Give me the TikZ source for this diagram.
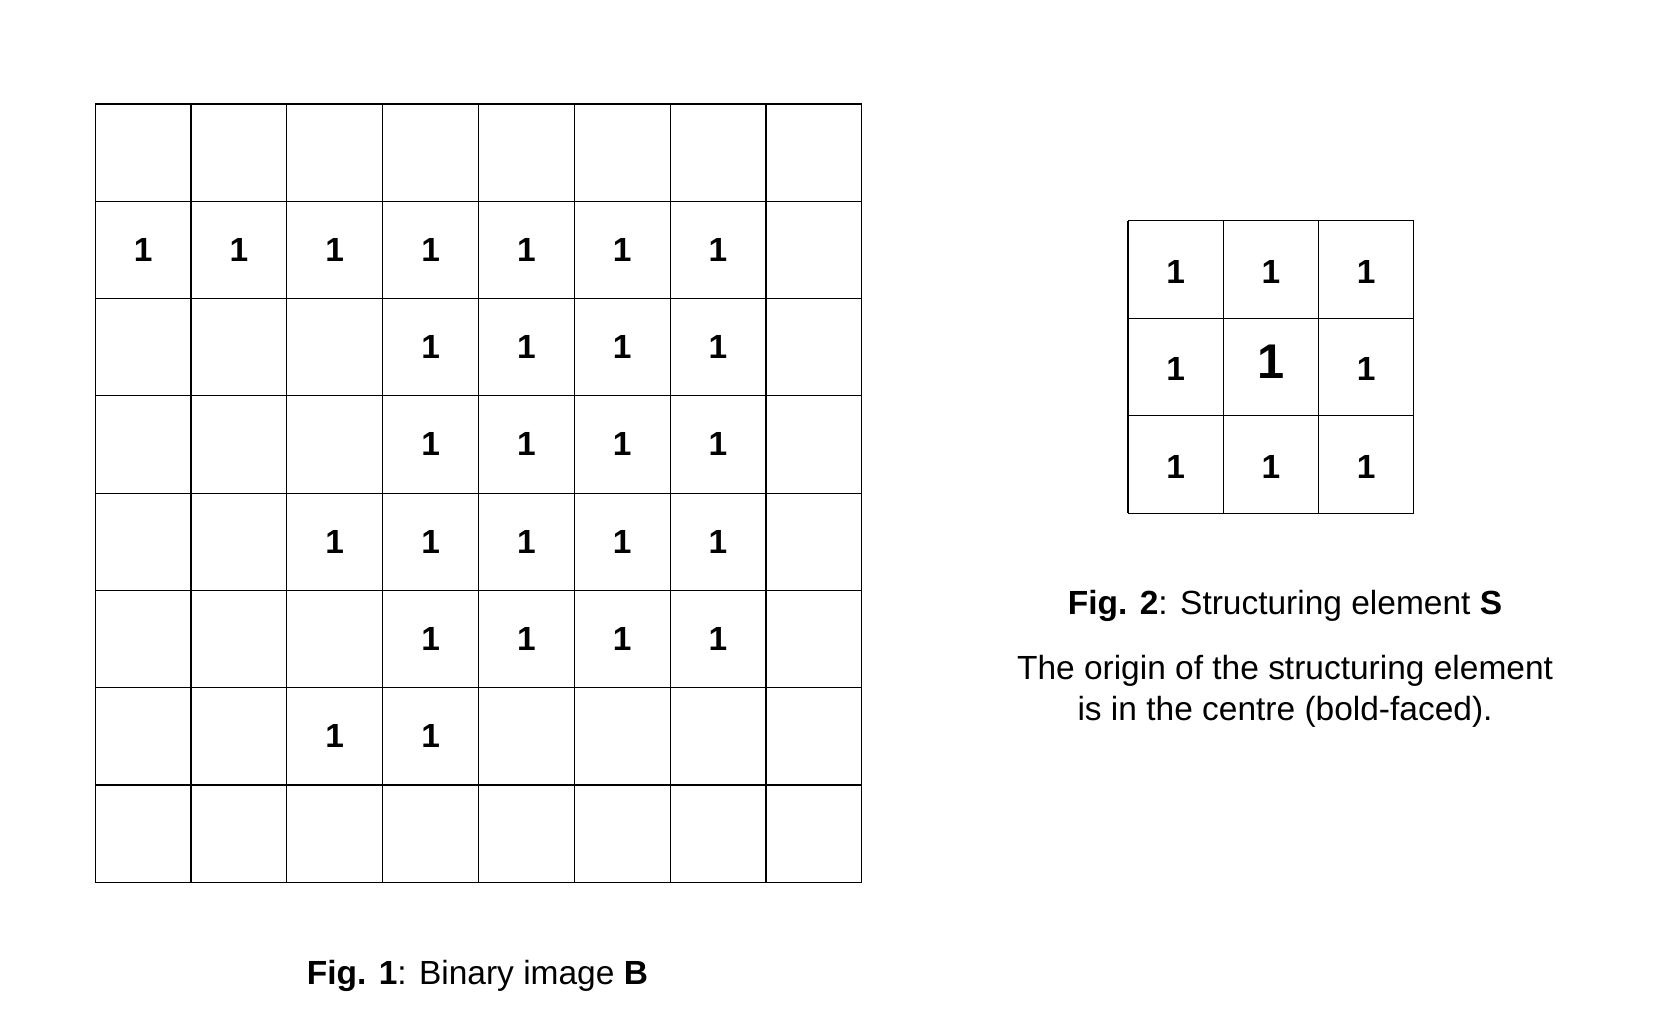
\documentclass[tikz,border=0pt]{standalone}
\usepackage{fontspec}
\setmainfont{Liberation Sans}
\begin{document}
\begin{tikzpicture}[x=0.05cm,y=-0.05cm,
  num/.style={font=\fontsize{44}{52}\selectfont\bfseries},
  captext/.style={font=\fontsize{44}{54}\selectfont, align=center},
  gline/.style={line width=1.6pt}]
\useasboundingbox (0,0) rectangle (1550,939);
% Fig 1 grid
\foreach \i in {0,...,8} {
  \draw[gline] ({88+\i*88.5},96) -- ({88+\i*88.5},815);
  \draw[gline] (88,{96+\i*89.875}) -- (796,{96+\i*89.875});
}
\foreach \r/\cols in {1/{0,1,2,3,4,5,6},2/{3,4,5,6},3/{3,4,5,6},4/{2,3,4,5,6},5/{3,4,5,6},6/{2,3}} {
  \foreach \c in \cols {
    \node[num] (b\r\c) at ({88+(\c+0.5)*88.5},{96+(\r+0.5)*89.875}) {1};
  }
}
% Fig 2 grid
\foreach \i in {0,...,3} {
  \draw[gline] ({1042+\i*88},204) -- ({1042+\i*88},474);
  \draw[gline] (1042,{204+\i*90}) -- (1306,{204+\i*90});
}
\foreach \r in {0,1,2} {
  \foreach \c in {0,1,2} {
    \ifnum\r=1 \ifnum\c=1 \else
      \node[num] (s\r\c) at ({1086+\c*88},{253+\r*90-2}) {1};
    \fi\else
      \node[num] (s\r\c) at ({1086+\c*88},{253+\r*90-2}) {1};
    \fi
  }
}
\node[font=\fontsize{64}{70}\selectfont\bfseries] (s11) at (1174,334) {1};
\node[captext] (c1) at (441,901) {\textbf{Fig. 1}: Binary image \textbf{B}};
\node[captext] (c2) at (1187,560) {\textbf{Fig. 2}: Structuring element \textbf{S}};
\node[captext] (c3) at (1187,639) {The origin of the structuring element\\is in the centre (bold-faced).};
\end{tikzpicture}
\end{document}
